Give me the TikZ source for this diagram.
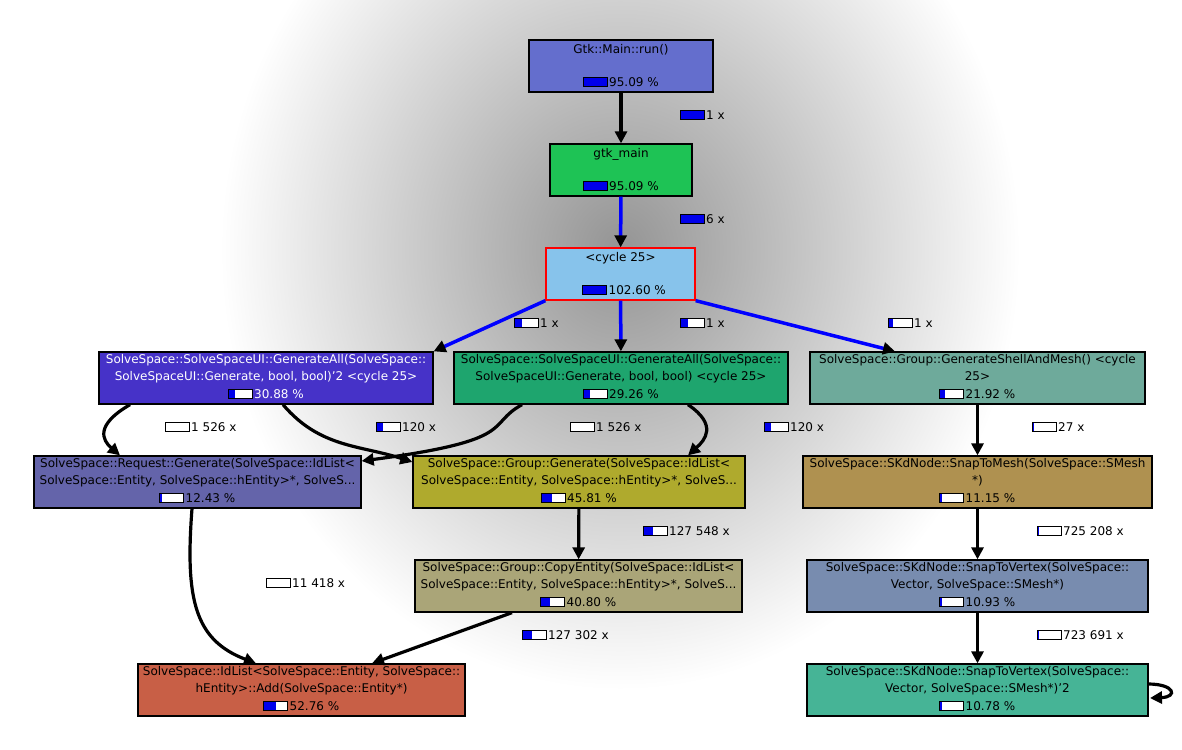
\documentclass[tikz,border=0pt]{standalone}
\usepackage{fontspec}
\setmainfont{DejaVu Sans}
\usetikzlibrary{arrows.meta}
\definecolor{cA}{RGB}{100,110,205}
\definecolor{cB}{RGB}{30,195,85}
\definecolor{cC}{RGB}{135,195,235}
\definecolor{cD}{RGB}{70,50,200}
\definecolor{cE}{RGB}{30,165,110}
\definecolor{cF}{RGB}{110,170,155}
\definecolor{cG}{RGB}{100,100,170}
\definecolor{cH}{RGB}{175,170,45}
\definecolor{cI}{RGB}{175,145,80}
\definecolor{cJ}{RGB}{170,165,120}
\definecolor{cK}{RGB}{120,140,175}
\definecolor{cL}{RGB}{200,95,70}
\definecolor{cM}{RGB}{70,180,150}
\definecolor{bblue}{RGB}{0,0,235}
\newcommand{\bbar}[3]{% x, y(center), frac
  \pgfmathsetmacro{\bxa}{#1}\pgfmathsetmacro{\bya}{#2}
  \pgfmathsetmacro{\bxf}{\bxa+24*#3}
  \fill[white] (\bxa,\bya-4.5) rectangle (\bxa+24,\bya+4.5);
  \fill[bblue] (\bxa,\bya-4.5) rectangle (\bxf,\bya+4.5);
  \draw[black,line width=1] (\bxa,\bya-4.5) rectangle (\bxa+24,\bya+4.5);}
\newcommand{\elab}[5]{% name,x,y,frac,text
  \bbar{#2}{#3}{#4}
  \node[txt,anchor=west,inner sep=0] (#1) at (#2+26,#3) {#5};}
\newcommand{\bx}[9]{% name,x1,y1,x2,y2,color,text,pct,frac
  \pgfmathsetmacro{\cx}{(#2+#4)/2}\pgfmathsetmacro{\cy}{(#3+#5)/2}
  \pgfmathsetmacro{\ww}{#4-#2}\pgfmathsetmacro{\hh}{#5-#3}
  \node[box,fill=#6,minimum width=\ww,minimum height=\hh] (#1) at (\cx,\cy) {};
  \node[txt,anchor=north,align=center] at (\cx,#3+1) {#7};
  \bbar{\cx-38}{#5-10}{#9}
  \node[txt,anchor=west,inner sep=0] at (\cx-12,#5-10) {#8};}
\tikzset{
  box/.style={draw=black,line width=1.3,inner sep=0,rectangle},
  txt/.style={font=\fontsize{12}{17}\selectfont,inner sep=1},
  eb/.style={line width=3.2,black,-{Triangle[length=12,width=12]}},
  eu/.style={line width=3.5,blue,-{Triangle[length=12,width=12,fill=black,color=black]}},
}
\begin{document}
\begin{tikzpicture}[x=1pt,y=-1pt]
\useasboundingbox (0,0) rectangle (1182,749);
\begin{scope}
\clip (0,0) rectangle (1182,749);
\fill[white] (0,0) rectangle (1182,749);
\shade[inner color=black!42,outer color=white] (620,250) ellipse (400 and 440);
\end{scope}
\bx{A}{529}{40}{713}{92}{cA}{\rule{0pt}{11pt}Gtk::Main::run()}{95.09 \%}{1}
\bx{B}{550}{144}{692}{196}{cB}{\rule{0pt}{11pt}gtk\_main}{95.09 \%}{1}
\bx{C}{546}{248}{695}{300}{cC}{\rule{0pt}{11pt}<cycle 25>}{102.60 \%}{1}
\draw[red,line width=1.2] (546,248) rectangle (695,300);
\bx{D}{99}{352}{433}{404}{cD}{\color{white}SolveSpace::SolveSpaceUI::GenerateAll(SolveSpace::\\\color{white}SolveSpaceUI::Generate, bool, bool)'2 <cycle 25>}{\color{white}30.88 \%}{0.3}
\bx{E}{454}{352}{788}{404}{cE}{SolveSpace::SolveSpaceUI::GenerateAll(SolveSpace::\\SolveSpaceUI::Generate, bool, bool) <cycle 25>}{29.26 \%}{0.3}
\bx{F}{810}{352}{1145}{404}{cF}{SolveSpace::Group::GenerateShellAndMesh() <cycle\\25>}{21.92 \%}{0.22}
\bx{G}{34}{456}{361}{508}{cG}{SolveSpace::Request::Generate(SolveSpace::IdList<\\SolveSpace::Entity, SolveSpace::hEntity>*, SolveS...}{12.43 \%}{0.12}
\bx{H}{413}{456}{745}{508}{cH}{SolveSpace::Group::Generate(SolveSpace::IdList<\\SolveSpace::Entity, SolveSpace::hEntity>*, SolveS...}{45.81 \%}{0.46}
\bx{I}{803}{456}{1152}{508}{cI}{SolveSpace::SKdNode::SnapToMesh(SolveSpace::SMesh\\*)}{11.15 \%}{0.11}
\bx{J}{415}{560}{742}{612}{cJ}{SolveSpace::Group::CopyEntity(SolveSpace::IdList<\\SolveSpace::Entity, SolveSpace::hEntity>*, SolveS...}{40.80 \%}{0.41}
\bx{K}{807}{560}{1148}{612}{cK}{SolveSpace::SKdNode::SnapToVertex(SolveSpace::\\Vector, SolveSpace::SMesh*)}{10.93 \%}{0.11}
\bx{L}{138}{664}{465}{716}{cL}{SolveSpace::IdList<SolveSpace::Entity, SolveSpace::\\hEntity>::Add(SolveSpace::Entity*)}{52.76 \%}{0.53}
\bx{M}{807}{664}{1148}{716}{cM}{SolveSpace::SKdNode::SnapToVertex(SolveSpace::\\Vector, SolveSpace::SMesh*)'2}{10.78 \%}{0.11}
% edges
\draw[eb] (A) -- (B);
\draw[eu] (B) -- (C);
\draw[eu] (C.south west) -- (D.north east);
\draw[eu] (C) -- (E);
\draw[eu] (C.south east) -- (F.north -| 895,352);
\draw[eb] (F) -- (I);
\draw[eb] (I) -- (K);
\draw[eb] (K) -- (M);
\draw[eb] (H) -- (J);
\draw[eb] (J.south -| 512,612) -- (L.north -| 372,664);
\draw[eb] (D.south -| 130,404) .. controls (95,425) and (102,440) .. (G.north -| 120,456);
\draw[eb] (D.south -| 283,404) .. controls (320,448) and (360,445) .. (H.north west |- 413,462);
\draw[eb] (E.south -| 522,404) .. controls (485,425) and (520,440) .. (G.north east |- 361,461);
\draw[eb] (E.south -| 688,404) .. controls (718,425) and (705,440) .. (H.north -| 688,456);
\draw[eb] (G.south -| 192,508) .. controls (185,600) and (195,640) .. (L.north -| 256,664);
\coordinate (m1) at (1148,684);
\coordinate (m2) at (1150,698);
\draw[eb] (m1) .. controls (1175,684) and (1178,697) .. (m2);
% labels
\elab{l1}{680}{115}{1}{1 x}
\elab{l2}{680}{219}{1}{6 x}
\elab{l3}{514}{323}{0.35}{1 x}
\elab{l4}{680}{323}{0.35}{1 x}
\elab{l5}{888}{323}{0.2}{1 x}
\elab{l6}{165}{427}{0.05}{1 526 x}
\elab{l7}{376}{427}{0.3}{120 x}
\elab{l8}{570}{427}{0.05}{1 526 x}
\elab{l9}{764}{427}{0.3}{120 x}
\elab{l10}{1032}{427}{0.1}{27 x}
\elab{l11}{643}{531}{0.4}{127 548 x}
\elab{l12}{1037}{531}{0.1}{725 208 x}
\elab{l13}{266}{583}{0.05}{11 418 x}
\elab{l14}{522}{635}{0.4}{127 302 x}
\elab{l15}{1037}{635}{0.1}{723 691 x}
\end{tikzpicture}
\end{document}
